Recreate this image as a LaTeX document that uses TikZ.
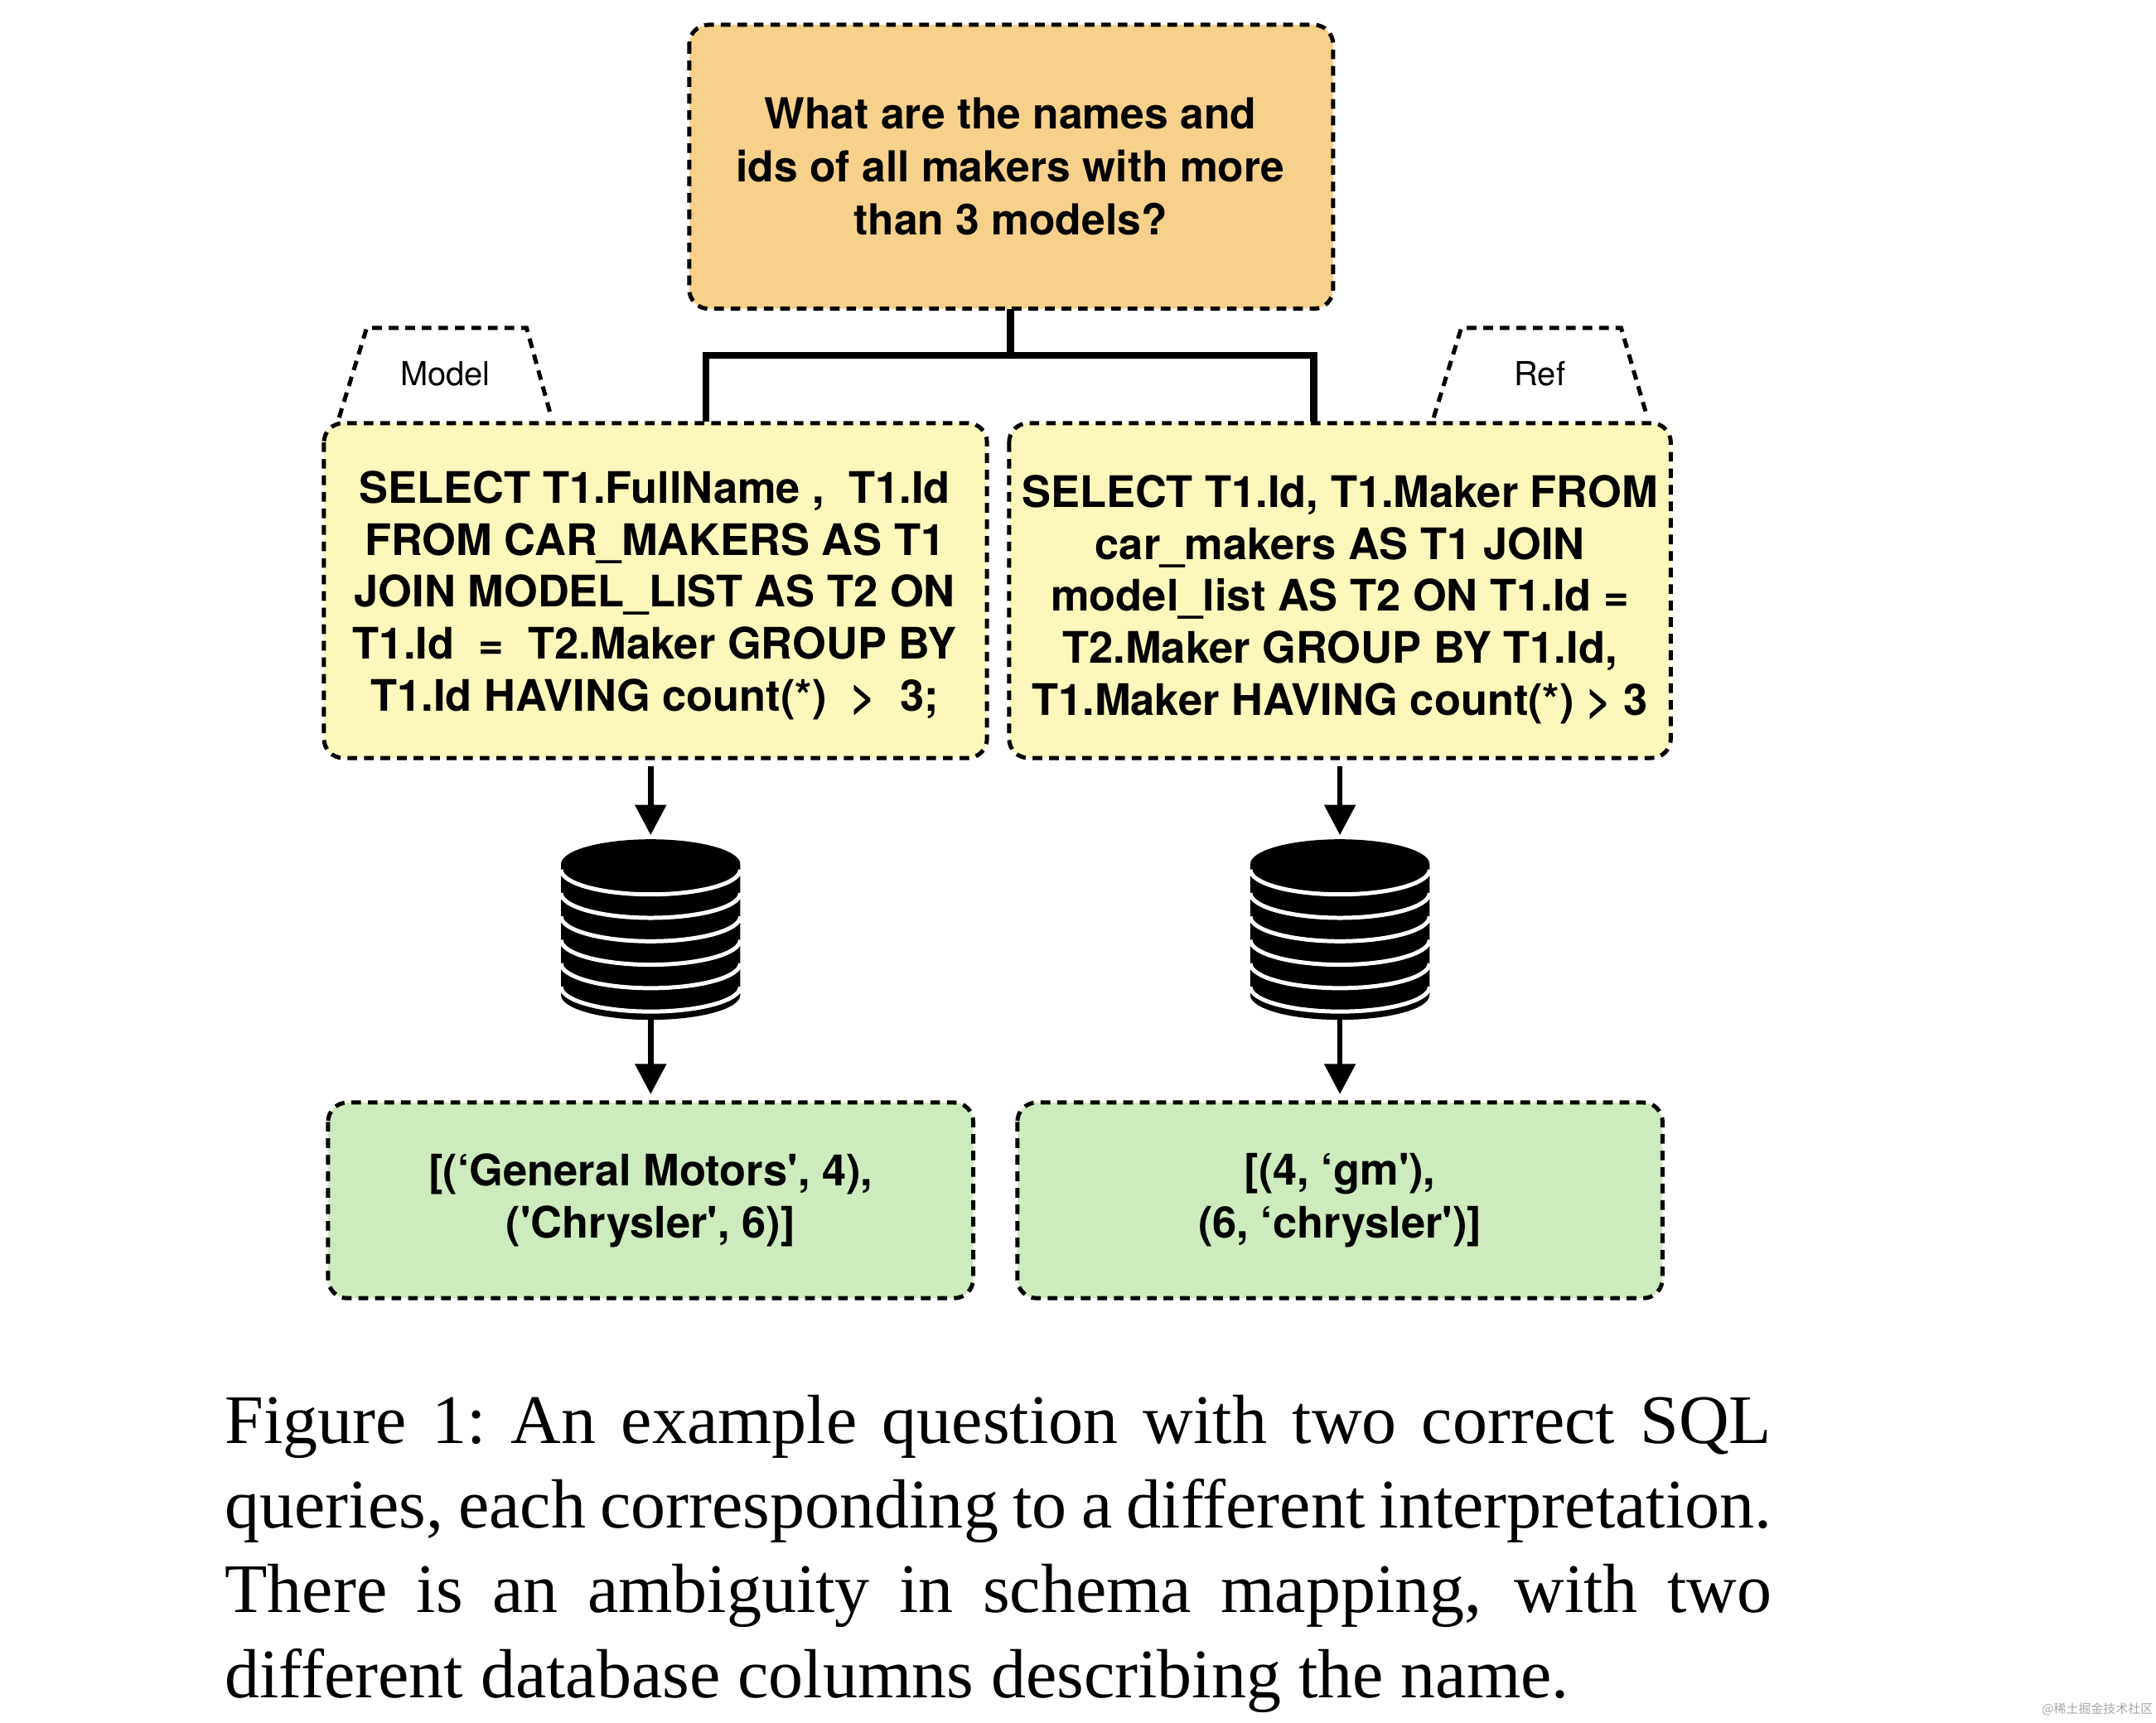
\documentclass[tikz,border=0pt]{standalone}
\usepackage{fontspec}
\setmainfont{Liberation Serif}
\newfontfamily\hv{TeX Gyre Heros}
\newfontfamily\cjk{Noto Sans CJK SC}
\usetikzlibrary{arrows.meta}
\begin{document}
\begin{tikzpicture}[x=1pt,y=-1pt,
  box/.style={draw,line width=3pt,dash pattern=on 7pt off 5pt,rounded corners=14pt,inner sep=0pt},
  lbl/.style={font=\hv\bfseries\fontsize{31.5}{38}\selectfont,align=center},
  conn/.style={line width=5pt},
  arr/.style={line width=4pt,-{Triangle[length=22pt,width=22pt]}}]
\useasboundingbox (0,0) rectangle (1564,1250);
\definecolor{qorange}{HTML}{F7D18C}
\definecolor{qyellow}{HTML}{FCF7BB}
\definecolor{qgreen}{HTML}{CDEBBD}
% question
\draw[box,fill=qorange] (500,18) rectangle (967,224);
\node[lbl,font=\hv\bfseries\fontsize{31}{38.5}\selectfont] (q) at (733,121) {What are the names and\\ids of all makers with more\\than 3 models?};
% tabs
\draw[line width=3pt,dash pattern=on 7pt off 5pt,fill=white] (246,303) -- (266,238) -- (382,238) -- (400,303);
\node[font=\hv\fontsize{24}{28}\selectfont] (tm) at (323,271) {Model};
\draw[line width=3pt,dash pattern=on 7pt off 5pt,fill=white] (1040,303) -- (1060,238) -- (1176,238) -- (1195,303);
\node[font=\hv\fontsize{24}{28}\selectfont] (tr) at (1117,271) {Ref};
% SQL boxes
\draw[box,fill=qyellow] (235,307) rectangle (716,550);
\node[lbl,font=\hv\bfseries\fontsize{31.5}{37.8}\selectfont] (sl) at (475,432) {SELECT T1.FullName ,\ \ T1.Id\\FROM CAR\_MAKERS AS T1\\JOIN MODEL\_LIST AS T2 ON\\T1.Id\ \ =\ \ T2.Maker GROUP BY\\T1.Id HAVING count(*)\ \ >\ \ 3;};
\draw[box,fill=qyellow] (732,307) rectangle (1212,550);
\node[lbl,font=\hv\bfseries\fontsize{31.5}{37.8}\selectfont] (sr) at (972,435) {SELECT T1.Id, T1.Maker FROM\\car\_makers AS T1 JOIN\\model\_list AS T2 ON T1.Id =\\T2.Maker GROUP BY T1.Id,\\T1.Maker HAVING count(*) > 3};
% connectors
\coordinate (qb) at (733,224);
\coordinate (jn) at (733,258);
\draw[conn] (qb) -- (jn);
\draw[conn] (512,306) -- (512,258) -- (953,258) -- (953,306);
% databases
\foreach \cx/\nm in {472/dl,972/dr}{
  \fill (\cx-65,627) -- (\cx-65,722) arc[start angle=180,end angle=0,x radius=65,y radius=18] -- (\cx+65,627) arc[start angle=0,end angle=-180,x radius=65,y radius=18] -- cycle;
  \foreach \yy in {631,648,665,682,699,716}{
    \draw[white,line width=3pt] (\cx-65,\yy) arc[start angle=180,end angle=0,x radius=65,y radius=18];
  }
  \coordinate (\nm t) at (\cx,606);
  \coordinate (\nm b) at (\cx,740);
}
\coordinate (sla) at (472,556);
\coordinate (sra) at (972,556);
\draw[arr] (sla) -- (dlt);
\draw[arr] (sra) -- (drt);
\coordinate (gla) at (472,794);
\coordinate (gra) at (972,794);
\draw[arr] (dlb) -- (gla);
\draw[arr] (drb) -- (gra);
% results
\draw[box,fill=qgreen] (238,800) rectangle (706,942);
\node[lbl] (rl) at (472,871) {[(‘General Motors', 4),\\('Chrysler', 6)]};
\draw[box,fill=qgreen] (738,800) rectangle (1206,942);
\node[lbl] (rr) at (972,871) {[(4, ‘gm'),\\(6, ‘chrysler')]};
% caption
\node[anchor=north west,inner sep=0pt,text width=1122pt,align=justify,font=\fontsize{50.5}{61.5}\selectfont] (cap) at (163,1012) {Figure 1:\ An example question with two correct SQL\linebreak queries, each corresponding to a different interpretation.\linebreak There is an ambiguity in schema mapping, with two\linebreak different database columns describing the name.};
\node[anchor=east,text=gray!70,font=\cjk\fontsize{9}{10}\selectfont,inner sep=0pt] (wm) at (1562,1240) {@稀土掘金技术社区};
\end{tikzpicture}
\end{document}
